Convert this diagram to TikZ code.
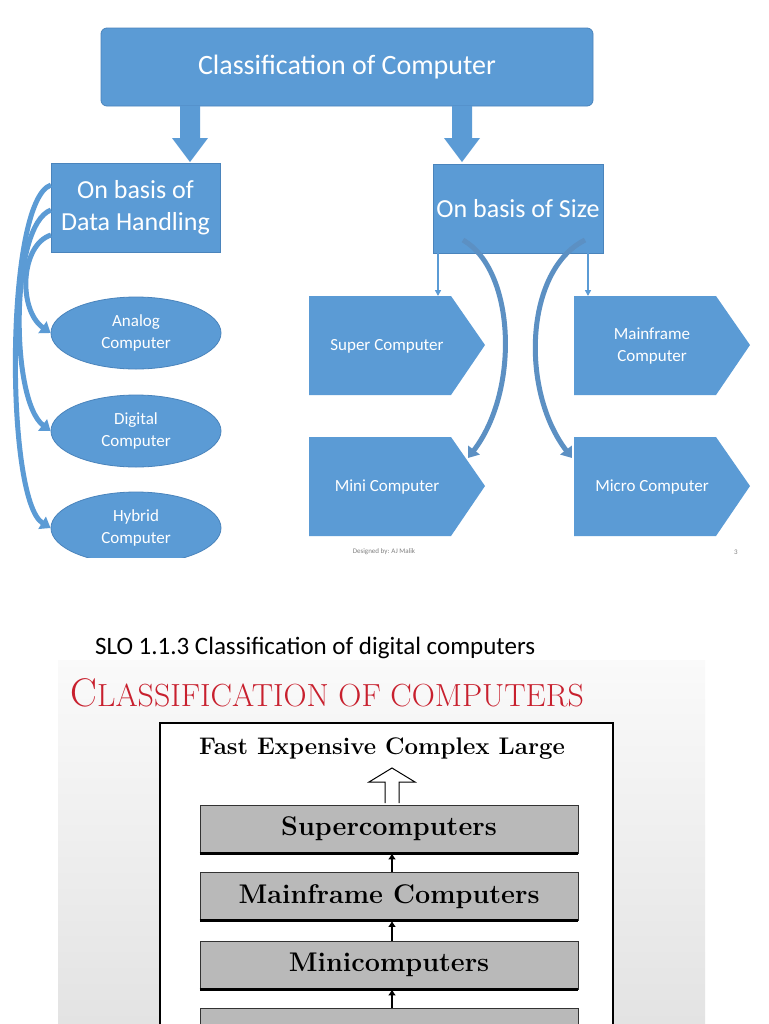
\documentclass[tikz,border=0pt]{standalone}
\usepackage{fontspec}
\setmainfont{Carlito}
\newfontfamily\lmfont{Latin Modern Roman}
\usetikzlibrary{arrows.meta,shapes.geometric}
\definecolor{slideblue}{HTML}{5B9BD5}
\definecolor{darkblue}{HTML}{4A84BC}
\definecolor{slidered}{HTML}{C8202E}
\tikzset{
    bluebox/.style={fill=slideblue, draw=darkblue, text=white, align=center, inner sep=0pt},
    bluerel/.style={ellipse, fill=slideblue, draw=darkblue, text=white, align=center, minimum width=85pt, minimum height=36pt, inner sep=0pt, font=\fontsize{8.5}{11}\selectfont},
    curvearrow/.style={draw=slideblue, line width=2.5pt, -{Triangle[width=7pt,length=5pt]}},
    thinarrow/.style={draw=slideblue, line width=1pt, -{Triangle[width=3pt,length=3pt]}},
    greybox/.style={fill=gray!55, draw=gray!40!black, minimum width=189pt, minimum height=24pt, inner sep=0pt, font=\lmfont\bfseries\fontsize{13.5}{15}\selectfont},
    stepup/.style={line width=1.2pt, -{Latex[length=3pt,width=4pt]}}
}
\begin{document}
\begin{tikzpicture}[x=0.5pt,y=-0.5pt]
    \useasboundingbox (0,0) rectangle (768,1024);
    \fill[white] (0,0) rectangle (768,1024);

    % Upper slide
    \begin{scope}
    \clip (0,0) rectangle (768,557);
    \node[bluebox, rounded corners=3pt, minimum width=246pt, minimum height=39pt, font=\fontsize{14}{16}\selectfont] (top) at (347,67) {Classification of Computer};
    \node[bluebox, minimum width=84.5pt, minimum height=44.5pt, font=\fontsize{13}{16}\selectfont] (data) at (135.5,207.5) {On basis of\\Data Handling};
    \node[bluebox, minimum width=85pt, minimum height=44.5pt, font=\fontsize{13}{16}\selectfont] (size) at (518,208.5) {On basis of Size};

    % block arrows from the title
    \foreach \bx in {190,462}
        \fill[slideblue] (\bx-10,106) -- (\bx+10,106) -- (\bx+10,138) -- (\bx+18,138) -- (\bx,162) -- (\bx-18,138) -- (\bx-10,138) -- cycle;

    % data handling
    \node[bluerel] (analog) at (136,333) {Analog\\Computer};
    \node[bluerel] (digital) at (136,431) {Digital\\Computer};
    \node[bluerel] (hybrid) at (136,528) {Hybrid\\Computer};
    \draw[curvearrow] (51,235) .. controls (20,245) and (18,310) .. (analog.west);
    \draw[curvearrow] (51,210) .. controls (10,225) and (10,400) .. (digital.west);
    \draw[curvearrow] (51,185) .. controls (5,200) and (5,500) .. (hybrid.west);

    % size
    \foreach \px/\py/\name/\txt in {309/296/super/Super Computer, 574/296/mainframe/Mainframe\\Computer, 309/437/mini/Mini Computer, 574/437/micro/Micro Computer}{
        \fill[slideblue] (\px,\py) -- (\px+142,\py) -- (\px+176,\py+49) -- (\px+142,\py+99) -- (\px,\py+99) -- cycle;
        \node[text=white, align=center, font=\fontsize{8.5}{11}\selectfont] (\name) at (\px+78,\py+50) {\txt};
    }
    \coordinate (superin) at (438,296);
    \coordinate (mainin) at (588,296);
    \draw[thinarrow] (size.south west -| superin) -- (superin);
    \draw[thinarrow] (size.south west -| mainin) -- (mainin);
    \draw[curvearrow, draw=darkblue!90] (463,240) .. controls (515,270) and (520,390) .. (468,458);
    \draw[curvearrow, draw=darkblue!90] (585,240) .. controls (525,270) and (520,390) .. (572,458);

    \node[text=gray, font=\fontsize{3.5}{4}\selectfont] (credit) at (384,552) {Designed by: AJ Malik};
    \node[text=gray, font=\fontsize{3.5}{4}\selectfont] (page) at (736,552) {3};
    \end{scope}

    \node[font=\fontsize{12.5}{14}\selectfont, anchor=west] (slo) at (88,648) {SLO 1.1.3 Classification of digital computers};

    % Lower slide
    \shade[top color=gray!4, bottom color=gray!22] (58,660) rectangle (705,1024);
    \node[text=slidered, anchor=west, inner sep=0pt, font=\lmfont] (title) at (70,693) {\fontsize{20}{22}\selectfont C\fontsize{16}{18}\selectfont LASSIFICATION OF COMPUTERS};
    \fill[white] (160,723) rectangle (613,1030);
    \draw[line width=0.6pt] (160,1030) -- (160,723) -- (613,723) -- (613,1030);
    \node[font=\lmfont\bfseries\fontsize{12}{14}\selectfont] (traits) at (382,749) {Fast Expensive Complex Large};
    \draw[line width=0.5pt, fill=white] (385,803) -- (385,782) -- (369,782) -- (392,768) -- (415,782) -- (399,782) -- (399,803);

    \node[greybox] (superc) at (389,829) {Supercomputers};
    \node[greybox] (mainc) at (389,896.5) {Mainframe Computers};
    \node[greybox] (minic) at (389,965) {Minicomputers};
    \node[greybox] (microc) at (389,1032) {};
    \foreach \b in {superc,mainc,minic}
        \draw[line width=1.5pt] (\b.south west) -- (\b.south east);
    \draw[stepup] (mainc.north -| 392,0) -- (superc.south -| 392,0);
    \draw[stepup] (minic.north -| 392,0) -- (mainc.south -| 392,0);
    \draw[stepup] (microc.north -| 392,0) -- (minic.south -| 392,0);
\end{tikzpicture}
\end{document}
